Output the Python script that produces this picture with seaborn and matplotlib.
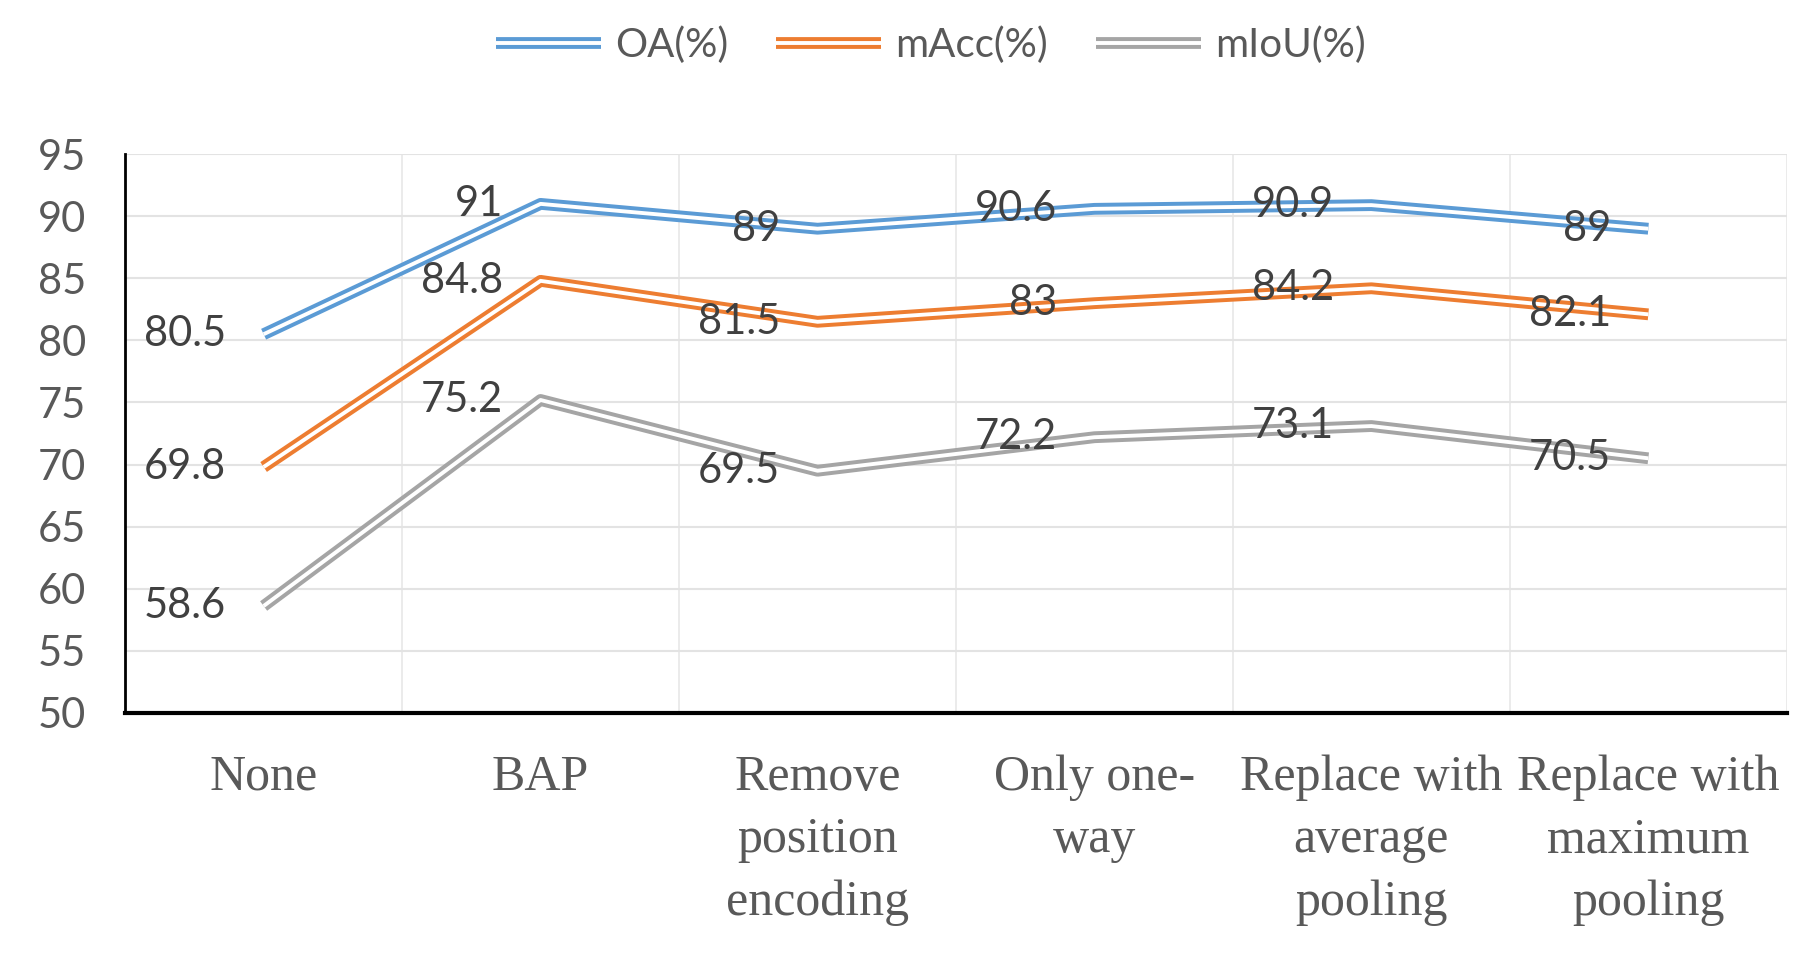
import pandas as pd
import matplotlib.pyplot as plt
import matplotlib.patheffects as pe
from matplotlib.ticker import MultipleLocator, FixedLocator
import seaborn as sns

categories = [
    "None",
    "BAP",
    "Remove\nposition\nencoding",
    "Only one-\nway",
    "Replace with\naverage\npooling",
    "Replace with\nmaximum\npooling",
]
oa = [80.5, 91, 89, 90.6, 90.9, 89]
macc = [69.8, 84.8, 81.5, 83, 84.2, 82.1]
miou = [58.6, 75.2, 69.5, 72.2, 73.1, 70.5]
metrics = ["OA(%)", "mAcc(%)", "mIoU(%)"]
colors = ["#5B9BD5", "#ED7D31", "#A5A5A5"]

df = pd.DataFrame({
    "method": categories * 3,
    "value": oa + macc + miou,
    "metric": [m for m in metrics for _ in categories],
})

sns.set_style("white")
plt.rcParams["font.family"] = ["Lato", "DejaVu Sans"]

fig, ax = plt.subplots(figsize=(18.14, 9.58), dpi=100)
fig.subplots_adjust(left=0.069, right=0.985, top=0.839, bottom=0.256)

sns.lineplot(
    data=df, x="method", y="value", hue="metric",
    palette=dict(zip(metrics, colors)), sort=False, ax=ax, legend=False,
)

# double line look: colored stroke with a white core
for line, c in zip(ax.lines, colors):
    line.set_color("white")
    line.set_linewidth(2.8)
    line.set_solid_capstyle("butt")
    line.set_path_effects([pe.Stroke(linewidth=8.5, foreground=c, capstyle="butt"),
                           pe.Normal()])

# data labels placed left of each point
for vals in [oa, macc, miou]:
    for i, v in enumerate(vals):
        ax.annotate(f"{v:g}", (i, v), xytext=(-27, 0), textcoords="offset points",
                    ha="right", va="center", fontsize=30, color="#404040")

ax.set_xlim(-0.5, 5.5)
ax.set_ylim(50, 95)
ax.yaxis.set_major_locator(MultipleLocator(5))
ax.xaxis.set_minor_locator(FixedLocator([0.5, 1.5, 2.5, 3.5, 4.5, 5.5]))
ax.grid(axis="y", which="major", color="#E3E3E3", lw=1.5)
ax.grid(axis="x", which="minor", color="#E8E8E8", lw=1.2)
ax.set_axisbelow(True)

ax.set_xlabel("")
ax.set_ylabel("")
ax.tick_params(axis="both", which="both", length=0)
ax.tick_params(axis="y", labelsize=30, labelcolor="#595959", pad=28)
ax.tick_params(axis="x", pad=30)
for lab in ax.get_xticklabels():
    lab.set_fontfamily(["Liberation Serif", "DejaVu Serif"])
    lab.set_fontsize(36)
    lab.set_color("#595959")
    lab.set_linespacing(1.45)
    lab.set_verticalalignment("top")

for s in ["top", "right"]:
    ax.spines[s].set_visible(False)
ax.spines["left"].set_color("black")
ax.spines["left"].set_linewidth(2)
ax.spines["bottom"].set_color("black")
ax.spines["bottom"].set_linewidth(3)

fig.legend(ax.lines, metrics, loc="center", bbox_to_anchor=(0.513, 0.953), ncol=3,
           frameon=False, fontsize=29, handlelength=2.6, handletextpad=0.35,
           columnspacing=1.2, labelcolor="#595959")

fig.savefig("out.png", dpi=100)
